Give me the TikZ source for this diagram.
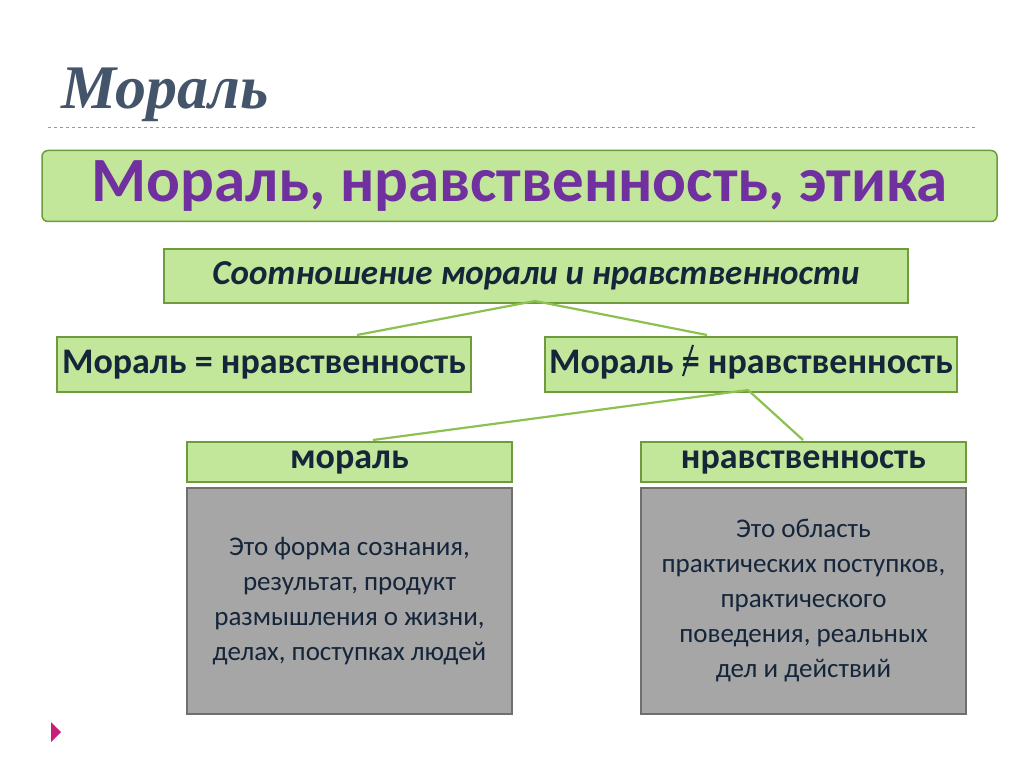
\documentclass[tikz,border=0pt]{standalone}
\usepackage{fontspec}
\setmainfont{Carlito}
\newfontfamily\titlefont{Liberation Serif}
\definecolor{gfill}{HTML}{C2E69A}
\definecolor{gline}{HTML}{6E9B3C}
\definecolor{conn}{HTML}{8CC152}
\definecolor{txt}{HTML}{15253A}
\definecolor{gray1}{HTML}{A6A6A6}
\definecolor{gray2}{HTML}{6F6F6F}
\definecolor{ttl}{HTML}{44546A}
\definecolor{purp}{HTML}{7030A0}
\definecolor{dashc}{HTML}{DC7896}
\definecolor{tri}{HTML}{C81E78}
\begin{document}
\begin{tikzpicture}[x=1pt,y=-1pt,
 gbox/.style={draw=gline,line width=1.5pt,fill=gfill,inner sep=0pt,text=txt,font=\bfseries},
 graybox/.style={draw=gray2,line width=1.2pt,fill=gray1,inner sep=0pt,text=txt,align=center,font=\fontsize{27}{35}\selectfont},
 cline/.style={draw=conn,line width=2.2pt}]
\useasboundingbox (0,0) rectangle (1024,767);
\fill[white] (0,0) rectangle (1024,767);
\node[anchor=west,text=ttl,font=\titlefont\bfseries\itshape\fontsize{62}{66}\selectfont] (title) at (58,95) {Мораль};
\draw[dashed,draw=dashc,line width=0.8pt] (48,127) -- (975,127);
\node[gbox,rounded corners=6pt,minimum width=955,minimum height=71,text=purp,font=\bfseries\fontsize{63}{66}\selectfont] (main) at (519.5,186) {Мораль, нравственность, этика};
\node[gbox,minimum width=744,minimum height=54,font=\bfseries\itshape\fontsize{35}{38}\selectfont] (rel) at (536,276) {Соотношение морали и нравственности};
\node[gbox,minimum width=414,minimum height=55,font=\bfseries\fontsize{36}{38}\selectfont] (eq) at (264,364.5) {Мораль = нравственность};
\node[gbox,minimum width=412,minimum height=55,font=\bfseries\fontsize{36}{38}\selectfont] (neq) at (751,364.5) {Мораль = нравственность};
\draw[txt,line width=2pt] (683,376) -- (693,345);
\node[gbox,minimum width=325,minimum height=40,font=\bfseries\fontsize{36}{38}\selectfont] (m) at (349.5,462) {мораль};
\node[gbox,minimum width=325,minimum height=40,font=\bfseries\fontsize{36}{38}\selectfont] (n) at (803.5,462) {нравственность};
\node[graybox,minimum width=325,minimum height=226] (md) at (349.5,601) {Это форма сознания,\\результат, продукт\\размышления о жизни,\\делах, поступках людей};
\node[graybox,minimum width=325,minimum height=226] (nd) at (803.5,601) {Это область\\практических поступков,\\практического\\поведения, реальных\\дел и действий};
\coordinate (r1) at (535,301);
\coordinate (q1) at (748,390);
\draw[cline] (r1) -- (357,335);
\draw[cline] (r1) -- (707,335);
\draw[cline] (q1) -- (373,440);
\draw[cline] (q1) -- (803,440);
\fill[tri] (51,722) -- (61,732) -- (51,742) -- cycle;
\end{tikzpicture}
\end{document}
